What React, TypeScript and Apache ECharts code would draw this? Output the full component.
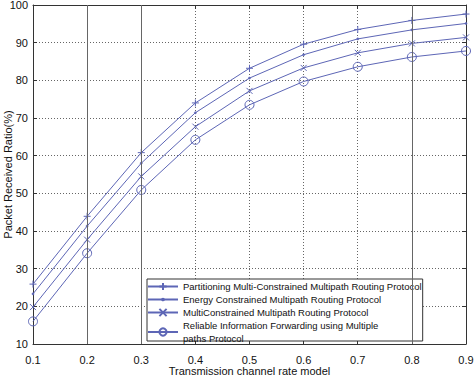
import React, { useEffect, useRef } from "react";
import * as echarts from "echarts";

const xValues = [0.1, 0.2, 0.3, 0.4, 0.5, 0.6, 0.7, 0.8, 0.9];
const pmcmr = [25.9, 43.9, 60.8, 74.0, 83.2, 89.6, 93.5, 95.9, 97.6];
const ecmr = [23.3, 41.3, 58.0, 71.4, 80.6, 86.8, 91.0, 93.4, 95.1];
const mcmr = [19.8, 37.7, 54.5, 67.7, 77.2, 83.3, 87.3, 89.8, 91.4];
const rifm = [16.0, 34.1, 50.9, 64.2, 73.5, 79.7, 83.6, 86.2, 87.8];
const seriesNames = [
  "Partitioning Multi-Constrained Multipath Routing Protocol",
  "Energy Constrained Multipath Routing Protocol",
  "MultiConstrained Multipath Routing Protocol",
  "Reliable Information Forwarding using Multiple\npaths Protocol",
];
const solidGridX = [0.2, 0.3, 0.8];

const LINE = "#5d66b6";
const FONT = "Liberation Sans";

export default function App() {
  const ref = useRef<HTMLDivElement>(null);
  useEffect(() => {
    if (!ref.current) return;
    const chart = echarts.init(ref.current, null, { renderer: "svg" });
    const data = [pmcmr, ecmr, mcmr, rifm];
    const symbols = [
      "path://M0,-5 L0,5 M-5,0 L5,0",
      "path://M-5,-5 L-5,-5 M5,5 L5,5 M-1.2,0 A1.2,1.2 0 1,1 1.2,0 A1.2,1.2 0 1,1 -1.2,0 Z",
      "path://M-5,-5 L5,5 M-5,5 L5,-5",
      "circle",
    ];
    const sizes = [7, 9, 6, 9];
    const series: any[] = data.map((arr, i) => ({
      name: seriesNames[i],
      type: "line",
      data: arr.map((v, j) => [xValues[j], v]),
      symbol: symbols[i],
      symbolSize: sizes[i],
      showAllSymbol: true,
      lineStyle: { color: LINE, width: 1 },
      itemStyle:
        i === 1
          ? { color: LINE, borderColor: LINE, borderWidth: 0.5 }
          : { color: "none", borderColor: LINE, borderWidth: 1 },
      emphasis: { disabled: true },
      z: 3,
    }));
    series.push({
      type: "line",
      data: [],
      silent: true,
      markLine: {
        symbol: "none",
        silent: true,
        label: { show: false },
        lineStyle: { color: "#666", type: "solid", width: 1 },
        data: solidGridX.map((x) => ({ xAxis: x })),
      },
      z: 1,
    });
    const axisLine = { show: true, lineStyle: { color: "#333", width: 1 } };
    chart.setOption({
      animation: false,
      backgroundColor: "#fff",
      textStyle: { fontFamily: FONT },
      grid: { left: 33, right: 8, top: 5, bottom: 33, containLabel: false, outerBoundsMode: "none" },
      legend: {
        data: seriesNames,
        orient: "vertical",
        left: 147,
        top: 279,
        itemWidth: 30,
        itemHeight: 9,
        itemGap: 0,
        padding: [1, 1, -4, 0],
        backgroundColor: "#fff",
        borderColor: "#333",
        borderWidth: 1,
        borderRadius: 0,
        textStyle: { fontFamily: FONT, fontSize: 9.5, color: "#111", lineHeight: 13 },
      },
      xAxis: [
        {
          type: "value",
          min: 0.1,
          max: 0.9,
          interval: 0.1,
          name: "Transmission channel rate model",
          nameLocation: "middle",
          nameGap: 21,
          nameMoveOverlap: false,
          nameTextStyle: { fontFamily: FONT, fontSize: 11, color: "#111", lineHeight: 11 },
          axisLine,
          axisTick: { show: true, inside: true, length: 4, lineStyle: { color: "#333" } },
          axisLabel: {
            fontFamily: FONT,
            fontSize: 11,
            lineHeight: 11,
            color: "#111",
            margin: 10,
            formatter: (v: number) => v.toFixed(1),
          },
          splitLine: { show: true, lineStyle: { color: "#666", type: [1, 2], width: 1 } },
        },
        {
          type: "value",
          position: "top",
          min: 0.1,
          max: 0.9,
          interval: 0.1,
          axisLine,
          axisTick: { show: true, inside: true, length: 4, lineStyle: { color: "#333" } },
          axisLabel: { show: false },
          splitLine: { show: false },
        },
      ],
      yAxis: [
        {
          type: "value",
          min: 10,
          max: 100,
          interval: 10,
          name: "Packet Received Ratio(%)",
          nameLocation: "middle",
          nameGap: 20,
          nameMoveOverlap: false,
          nameTextStyle: { fontFamily: FONT, fontSize: 11, color: "#111" },
          axisLine,
          axisTick: { show: true, inside: true, length: 4, lineStyle: { color: "#333" } },
          axisLabel: { fontFamily: FONT, fontSize: 11, color: "#111", margin: 5 },
          splitLine: { show: true, lineStyle: { color: "#666", type: [1, 2], width: 1 } },
        },
        {
          type: "value",
          position: "right",
          min: 10,
          max: 100,
          interval: 10,
          axisLine,
          axisTick: { show: true, inside: true, length: 4, lineStyle: { color: "#333" } },
          axisLabel: { show: false },
          splitLine: { show: false },
        },
      ],
      series,
    });
    return () => chart.dispose();
  }, []);
  return <div ref={ref} style={{ width: 474, height: 377, position: "absolute", left: 0, top: 0 }} />;
}
